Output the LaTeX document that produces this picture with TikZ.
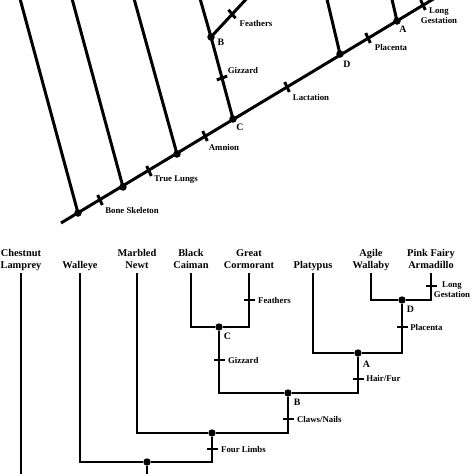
\documentclass[tikz,border=0pt]{standalone}
\usepackage{fontspec}
\setmainfont{Liberation Serif}
\usetikzlibrary{positioning}
\tikzset{
  branch/.style={line width=1.7pt},
  dot/.style={circle,fill=black,inner sep=0pt,minimum size=4.2pt},
  lbl/.style={font=\fontsize{5}{5.8}\selectfont\bfseries,inner sep=0pt,align=center},
  letter/.style={font=\fontsize{5.6}{6}\selectfont\bfseries,inner sep=0pt},
  taxon/.style={font=\fontsize{5.9}{6.7}\selectfont\bfseries,align=center,inner xsep=0pt,inner ysep=2.5pt,text depth=0pt,anchor=south},
}
% cross mark on a branch: point, angle
\newcommand\hashmark[2]{\draw[branch] (#1) ++(#2:5.5) -- ++(#2+180:11);}

\begin{document}
\begin{tikzpicture}[x=0.02cm,y=-0.02cm]
\fill[white] (0,0) rectangle (474,474);
\useasboundingbox (0,0) rectangle (474,474);
\clip (0,0) rectangle (474,474);

    % upper tree
    \coordinate (root) at (61,223);
    \coordinate (s1) at (78,213);
    \coordinate (s2) at (123,187);
    \coordinate (s3) at (177,154);
    \coordinate (tC) at (233,119);
    \coordinate (tB) at (211,37);
    \coordinate (tD) at (340,54);
    \coordinate (tA) at (397,21);
    \coordinate (tend) at (440,-5);
    \draw[branch] (root) -- (tend);
    \draw[branch] (s1) -- (19,-5);
    \draw[branch] (s2) -- (71,-5);
    \draw[branch] (s3) -- (133,-5);
    \draw[branch] (tC) -- (tB) -- (199,-5);
    \draw[branch] (tB) -- (250,-5);
    \draw[branch] (tD) -- (326,-5);
    \draw[branch] (tA) -- (391,-5);
    \foreach \p in {s1,s2,s3,tC,tB,tD,tA}
        \fill (\p) circle (0.075cm);
    % characters
    \foreach \k/\x/\y in {k1/100/200,k2/149/171,k3/205/136,k4/287/87,k5/368/38,k6/423/5}
        {\coordinate (\k) at (\x,\y); \hashmark{\k}{65}}
    \coordinate (kf) at (232,14); \hashmark{kf}{50}
    \coordinate (kg) at (222,78); \hashmark{kg}{-20}
    \node[letter] (uB) at (221,42) {B};
    \node[letter] (uC) at (240,127) {C};
    \node[letter] (uD) at (347,64) {D};
    \node[letter] (uA) at (403,29) {A};
    \node[lbl] (ubone) at (132,210) {Bone Skeleton};
    \node[lbl] (ulung) at (176,180) {True Lungs};
    \node[lbl] (uamn) at (224,147) {Amnion};
    \node[lbl] (ugiz) at (243,70) {Gizzard};
    \node[lbl] (ufea) at (256,23) {Feathers};
    \node[lbl] (ulac) at (311,97) {Lactation};
    \node[lbl] (upla) at (391,47) {Placenta};
    \node[lbl] (ugest) at (439,16) {Long\\Gestation};

    % lower tree
    \node[taxon] (lam) at (21,273) {Chestnut\\Lamprey};
    \node[taxon] (wal) at (80,273) {Walleye};
    \node[taxon] (newt) at (137,273) {Marbled\\Newt};
    \node[taxon] (cai) at (191,273) {Black\\Caiman};
    \node[taxon] (cor) at (249,273) {Great\\Cormorant};
    \node[taxon] (pla) at (313,273) {Platypus};
    \node[taxon] (wab) at (371,273) {Agile\\Wallaby};
    \node[taxon] (arm) at (431,273) {Pink Fairy\\Armadillo};
    \node[dot] (bC) at (219,327) {};
    \node[dot] (bD) at (402,300) {};
    \node[dot] (bA) at (358,353) {};
    \node[dot] (bB) at (288,393) {};
    \node[dot] (bL) at (212,433) {};
    \node[dot] (bR) at (147,462) {};
    \coordinate (end1) at (21,480);
    \coordinate (end2) at (147,480);
    \draw[branch] (cai.south) |- (bC) -| (cor.south);
    \draw[branch] (wab.south) |- (bD) -| (arm.south);
    \draw[branch] (pla.south) |- (bA) -| (bD);
    \draw[branch] (bC) |- (bB) -| (bA);
    \draw[branch] (newt.south) |- (bL) -| (bB);
    \draw[branch] (wal.south) |- (bR) -| (bL);
    \draw[branch] (bR) -- (end2);
    \draw[branch] (lam.south) -- (end1);
    \node[letter,below right=1.5pt and 1pt of bC] (lC) {C};
    \node[letter,below right=1.5pt and 1pt of bD] (lD) {D};
    \node[letter,below right=2.5pt and 1pt of bA] (lA) {A};
    \node[letter,below right=1.5pt and 1.5pt of bB] (lB) {B};
    % characters
    \foreach \k/\x/\y in {fe/249/300,lg/431/286,gz/219/360,pl/402/327,hf/358/379,cn/288/419,fl/212/449}
        {\coordinate (\k) at (\x,\y); \hashmark{\k}{0}}
    \node[lbl,right=5pt of fe] (tfe) {Feathers};
    \node[lbl,right=5pt of gz] (tgz) {Gizzard};
    \node[lbl,right=4.5pt of pl] (tpl) {Placenta};
    \node[lbl,right=4.5pt of hf] (thf) {Hair/Fur};
    \node[lbl,right=5pt of cn] (tcn) {Claws/Nails};
    \node[lbl,right=5pt of fl] (tfl) {Four Limbs};
    \node[lbl] (tlg) at (452,290) {Long\\Gestation};
\end{tikzpicture}
\end{document}
